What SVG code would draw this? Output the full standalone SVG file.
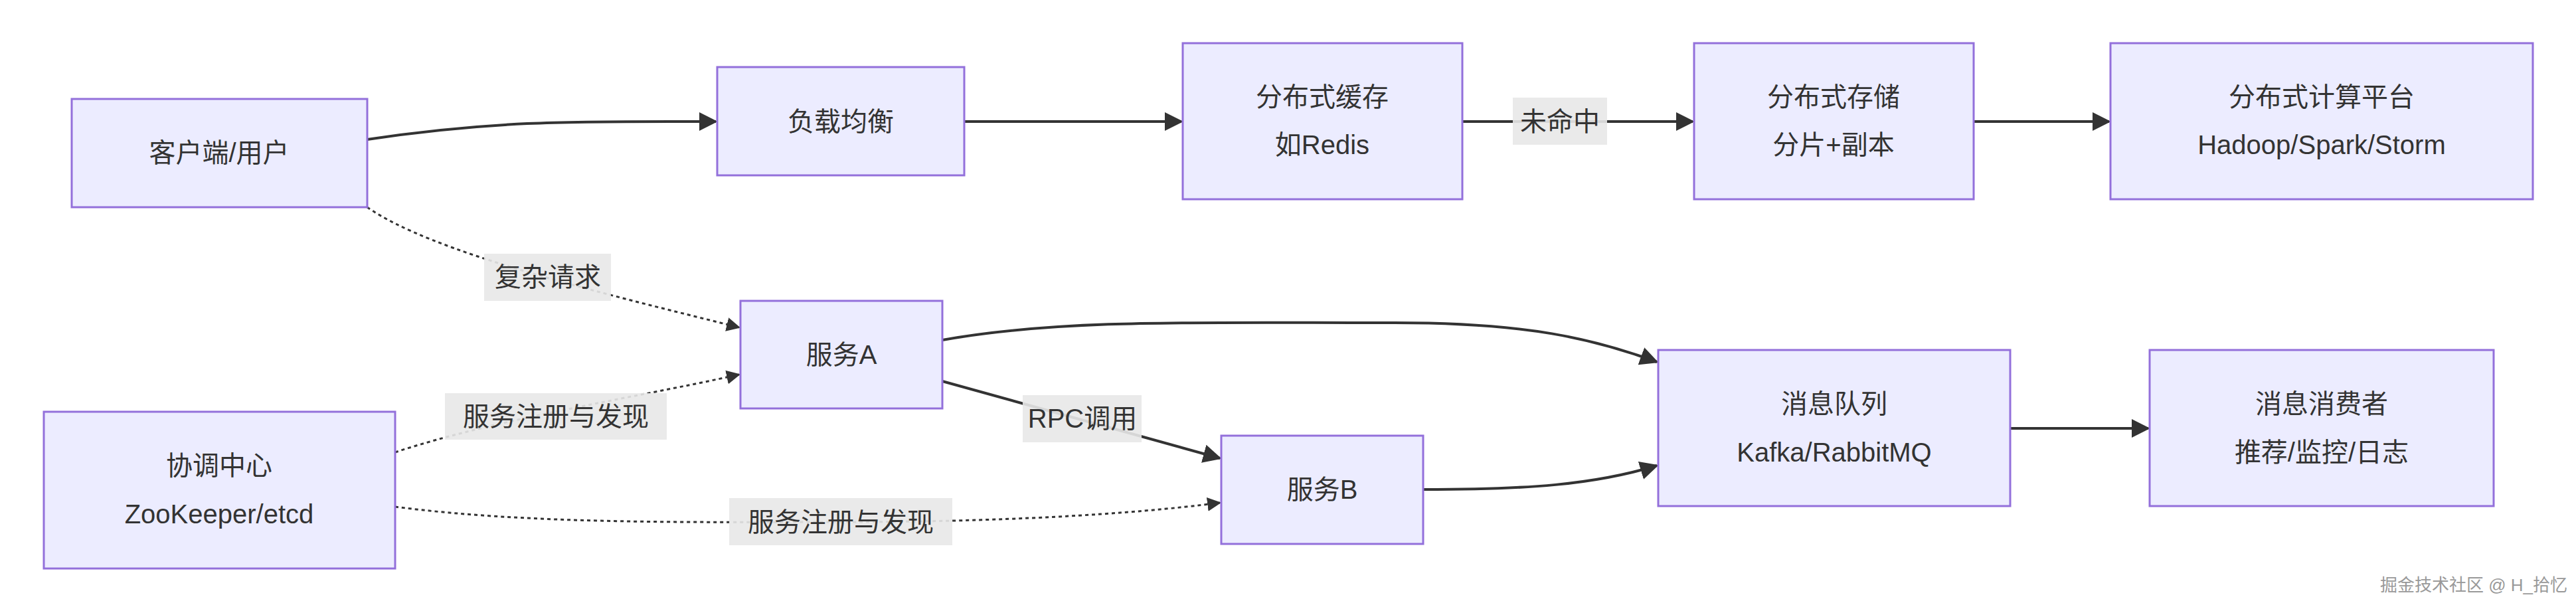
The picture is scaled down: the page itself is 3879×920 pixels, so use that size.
<svg xmlns="http://www.w3.org/2000/svg" width="3879" height="920" viewBox="0 0 3879 920">
<style>
.n rect{fill:#ECECFF;stroke:#9370DB;stroke-width:3}
text{font-family:"Liberation Sans","Noto Sans CJK SC",sans-serif;font-size:40px;fill:#333;text-anchor:middle;dominant-baseline:central}
.e{fill:none;stroke:#333;stroke-width:4}
.d{stroke-dasharray:5 5;stroke-width:3}
.lb{fill:#e8e8e8;opacity:0.9}
</style>
<defs><marker id="a" viewBox="0 0 10 10" refX="9" refY="5" markerWidth="6" markerHeight="6" markerUnits="userSpaceOnUse" orient="auto"><path d="M0,0L10,5L0,10z" fill="#333"/></marker>
<marker id="m" viewBox="0 0 10 10" refX="9" refY="5" markerWidth="7" markerHeight="7" orient="auto"><path d="M0,0L10,5L0,10z" fill="#333"/></marker></defs>
<g id="edges">
<path class="e" marker-end="url(#m)" d="M553,210 C750,180 880,183 1078,183"/>
<path class="e" marker-end="url(#m)" d="M1452,183 L1779,183"/>
<path class="e" marker-end="url(#m)" d="M2202,183 L2549,183"/>
<path class="e" marker-end="url(#m)" d="M2972,183 L3176,183"/>
<path class="e" marker-end="url(#m)" d="M3027,645 L3235,645"/>
<path class="e d" marker-end="url(#m)" d="M553,312 C650,380 900,440 1113,493"/>
<path class="e d" marker-end="url(#m)" d="M595,681 C750,630 950,600 1113,564"/>
<path class="e d" marker-end="url(#m)" d="M595,763 C800,790 1050,786 1266,786 C1500,786 1700,775 1837,757"/>
<path class="e" marker-end="url(#m)" d="M1419,512 C1600,480 1800,486 2100,486 C2300,486 2400,510 2495,545"/>
<path class="e" marker-end="url(#m)" d="M1419,574 L1837,690"/>
<path class="e" marker-end="url(#m)" d="M2143,737 C2300,737 2400,730 2495,701"/>
<rect class="lb" x="2278" y="147" width="142" height="71"/><text x="2349" y="183">未命中</text>
<rect class="lb" x="729" y="382" width="191" height="71"/><text x="825" y="417">复杂请求</text>
<rect class="lb" x="670" y="592" width="334" height="70"/><text x="837" y="627">服务注册与发现</text>
<rect class="lb" x="1098" y="750" width="336" height="71"/><text x="1266" y="786">服务注册与发现</text>
<rect class="lb" x="1540" y="595" width="179" height="71"/><text x="1630" y="630">RPC调用</text>
</g>
<g id="client" class="n"><rect x="108" y="149" width="445" height="163"/><text x="330" y="230">客户端/用户</text></g>
<g id="lb" class="n"><rect x="1080" y="101" width="372" height="163"/><text x="1266" y="183">负载均衡</text></g>
<g id="cache" class="n"><rect x="1781" y="65" width="421" height="235"/><text x="1991" y="146">分布式缓存</text><text x="1991" y="218">如Redis</text></g>
<g id="storage" class="n"><rect x="2551" y="65" width="421" height="235"/><text x="2761" y="146">分布式存储</text><text x="2761" y="218">分片+副本</text></g>
<g id="compute" class="n"><rect x="3178" y="65" width="636" height="235"/><text x="3496" y="146">分布式计算平台</text><text x="3496" y="218">Hadoop/Spark/Storm</text></g>
<g id="svcA" class="n"><rect x="1115" y="453" width="304" height="162"/><text x="1267" y="534">服务A</text></g>
<g id="coord" class="n"><rect x="66" y="620" width="529" height="236"/><text x="330" y="701">协调中心</text><text x="330" y="774">ZooKeeper/etcd</text></g>
<g id="svcB" class="n"><rect x="1839" y="656" width="304" height="163"/><text x="1991" y="737">服务B</text></g>
<g id="mq" class="n"><rect x="2497" y="527" width="530" height="235"/><text x="2762" y="608">消息队列</text><text x="2762" y="681">Kafka/RabbitMQ</text></g>
<g id="consumer" class="n"><rect x="3237" y="527" width="518" height="235"/><text x="3496" y="608">消息消费者</text><text x="3496" y="681">推荐/监控/日志</text></g>
<text x="3725" y="881" style="font-size:26px;fill:#999">掘金技术社区 @ H_拾忆</text>
</svg>
